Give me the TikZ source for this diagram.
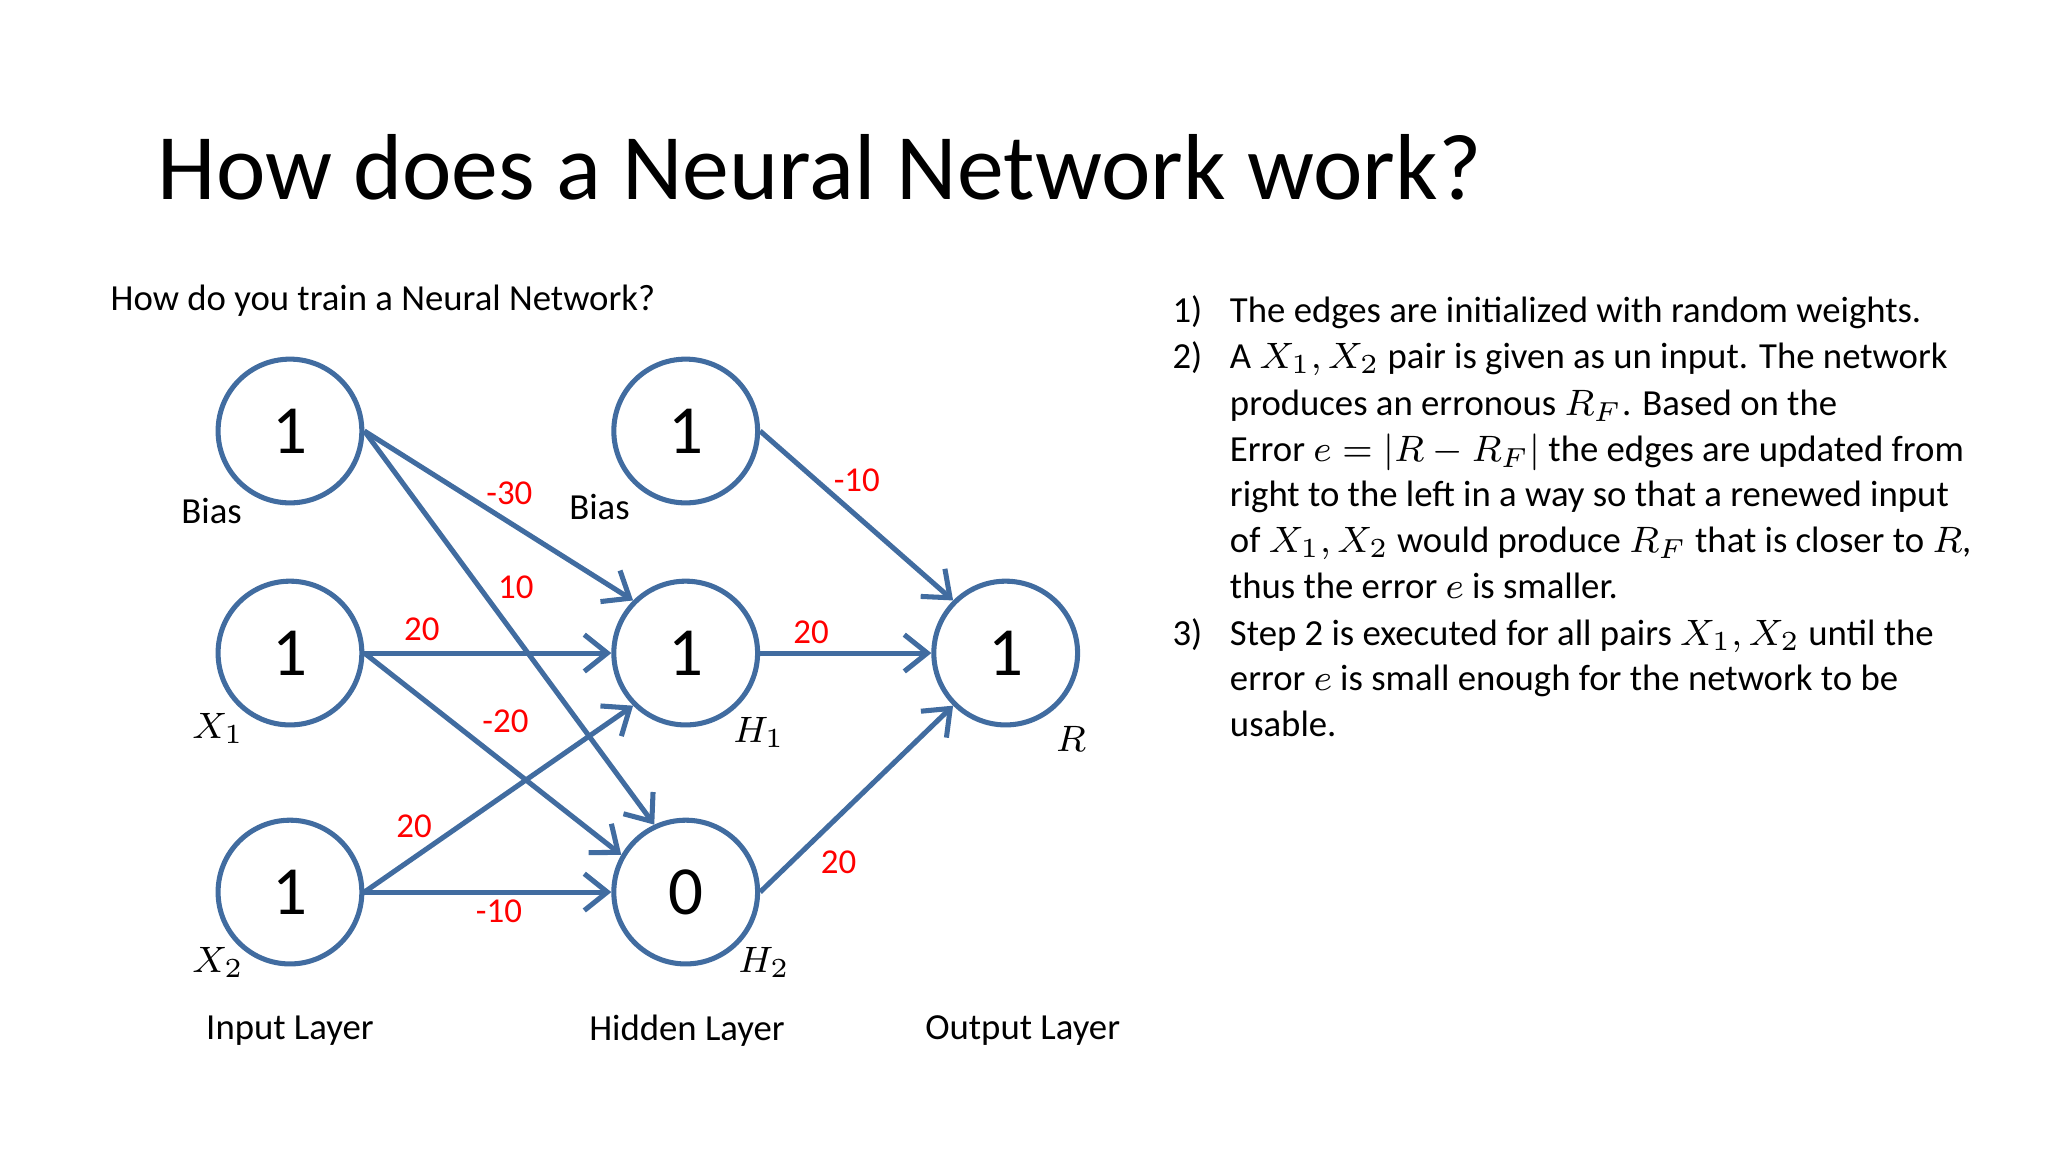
\documentclass[tikz,border=0pt]{standalone}
\usepackage{fontspec}
\setmainfont{Carlito}
\usetikzlibrary{arrows.meta}
\definecolor{nb}{RGB}{65,108,160}
\begin{document}
\begin{tikzpicture}[x=0.01cm,y=-0.01cm,
  neu/.style={circle,draw=nb,line width=1.1pt,minimum size=1.1cm,inner sep=0pt,font=\fontsize{15}{15}\selectfont},
  ed/.style={draw=nb,line width=1.1pt,-{Straight Barb[length=5pt,width=8pt,line width=1.1pt]}},
  w/.style={text=red,font=\fontsize{7.6}{8}\selectfont,inner sep=1pt},
  lb/.style={font=\fontsize{8}{9}\selectfont,inner sep=0pt},
  tx/.style={font=\fontsize{8}{9}\selectfont,anchor=base west,inner sep=0pt}]
\useasboundingbox (0,0) rectangle (1568,882);
\node[anchor=base west,inner sep=0pt,font=\fontsize{20.4}{24}\selectfont] (title) at (120,153) {How does a Neural Network work?};
\node[tx] (sub) at (84,238) {How do you train a Neural Network?};
\node[neu] (b1) at (222,330) {1};
\node[neu] (x1) at (222,500) {1};
\node[neu] (x2) at (222,683) {1};
\node[neu] (b2) at (525,330) {1};
\node[neu] (h1) at (525,500) {1};
\node[neu] (h2) at (525,683) {0};
\node[neu] (r) at (770,500) {1};
\draw[ed] (b1.east) -- (h1.135);
\draw[ed] (b1.east) -- (h2.115);
\draw[ed] (x1.east) -- (h1.west);
\draw[ed] (x1.east) -- (h2.150);
\draw[ed] (x2.east) -- (h1.225);
\draw[ed] (x2.east) -- (h2.west);
\draw[ed] (b2.east) -- (r.135);
\draw[ed] (h1.east) -- (r.west);
\draw[ed] (h2.east) -- (r.225);
\node[w] (w1) at (390,378) {-30};
\node[w] (w2) at (395,450) {10};
\node[w] (w3) at (323,482) {20};
\node[w] (w4) at (387,552) {-20};
\node[w] (w5) at (317,633) {20};
\node[w] (w6) at (382,698) {-10};
\node[w] (w7) at (656,368) {-10};
\node[w] (w8) at (621,484) {20};
\node[w] (w9) at (642,660) {20};
\node[lb] (lb1) at (162,391) {Bias};
\node[lb] (lb2) at (459,388) {Bias};
\node[lb] (lx1) at (167,558) {$X_1$};
\node[lb] (lx2) at (167,737) {$X_2$};
\node[lb] (lh1) at (581,561) {$H_1$};
\node[lb] (lh2) at (585,737) {$H_2$};
\node[lb] (lr) at (820,566) {$R$};
\node[lb] (il) at (222,789) {Input Layer};
\node[lb] (hl) at (526,789) {Hidden Layer};
\node[lb] (ol) at (783,789) {Output Layer};
\node[tx] at (897,247) {1)};
\node[tx] at (941,247) {The edges are initialized with random weights.};
\node[tx] at (897,282) {2)};
\node[tx] at (941,282) {A $X_1,X_2$ pair is given as un input. The network};
\node[tx] at (941,318) {produces an erronous $R_F$. Based on the};
\node[tx] at (941,353) {Error $e=|R-R_F|$ the edges are updated from};
\node[tx] at (941,388) {right to the left in a way so that a renewed input};
\node[tx] at (941,423) {of $X_1,X_2$ would produce $R_F$ that is closer to $R$,};
\node[tx] at (941,458) {thus the error $e$ is smaller.};
\node[tx] at (897,494) {3)};
\node[tx] at (941,494) {Step 2 is executed for all pairs $X_1,X_2$ until the};
\node[tx] at (941,529) {error $e$ is small enough for the network to be};
\node[tx] at (941,564) {usable.};
\end{tikzpicture}
\end{document}
